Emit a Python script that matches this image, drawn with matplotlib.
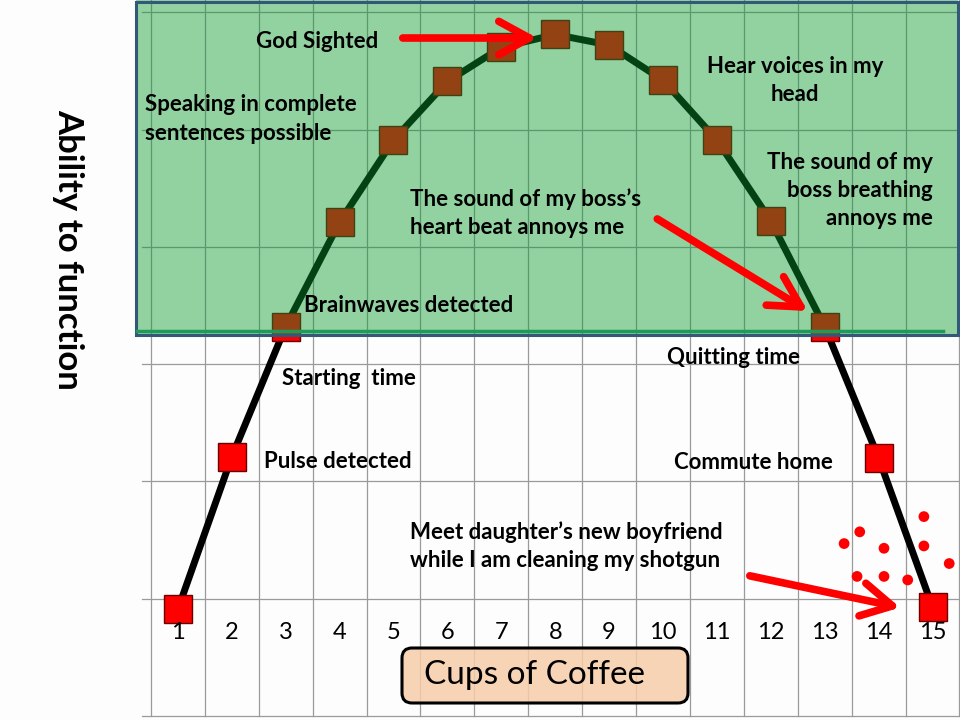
import matplotlib
matplotlib.use("Agg")
import matplotlib.pyplot as plt
from matplotlib.patches import Rectangle, FancyBboxPatch, FancyArrowPatch

plt.rcParams['font.family'] = ['Lato', 'DejaVu Sans']

# ---- data ----
cups = [1, 2, 3, 4, 5, 6, 7, 8, 9, 10, 11, 12, 13, 14, 15]
ability = [0.91, 2.21, 3.32, 4.21, 4.91, 5.41, 5.70, 5.81, 5.72, 5.42, 4.91, 4.22, 3.32, 2.20, 0.93]
tick_labels = [str(c) for c in cups]

# shotgun pellets
dots_x = [13.36, 13.65, 14.10, 13.60, 14.10, 14.54, 14.84, 14.84, 15.31]
dots_y = [1.47, 1.57, 1.43, 1.19, 1.19, 1.16, 1.70, 1.45, 1.30]

notes = [
    ("God Sighted", 2.45, 5.75, 'left'),
    ("Speaking in complete\nsentences possible", 0.39, 5.09, 'left'),
    ("Hear voices in my\nhead", 12.45, 5.42, 'center'),
    ("The sound of my\nboss breathing\nannoys me", 15.01, 4.48, 'right'),
    ("The sound of my boss\u2019s\nheart beat annoys me", 5.30, 4.29, 'left'),
    ("Brainwaves detected", 3.34, 3.50, 'left'),
    ("Starting  time", 2.93, 2.88, 'left'),
    ("Quitting time", 10.07, 3.06, 'left'),
    ("Pulse detected", 2.60, 2.17, 'left'),
    ("Commute home", 10.20, 2.16, 'left'),
    ("Meet daughter\u2019s new boyfriend\nwhile I am cleaning my shotgun", 5.30, 1.45, 'left'),
]

arrows = [
    ((5.12, 5.78), (7.72, 5.78)),
    ((9.85, 4.25), (12.73, 3.44)),
    ((11.56, 1.20), (14.45, 0.92)),
]

fig = plt.figure(figsize=(9.6, 7.2), dpi=100)
fig.patch.set_facecolor('#fdfdfd')
ax = fig.add_axes([0, 0, 1, 1])
ax.set_xlim(-2.30, 15.51)
ax.set_ylim(-0.034, 6.104)
ax.axis('off')

# grid
for gx in [c - 0.5 for c in cups] + [15.5]:
    ax.plot([gx, gx], [0, 6.2], color='#9a9a9a', lw=0.9, zorder=1)
for gy in range(7):
    ax.plot([0.33, 15.6], [gy, gy], color='#9a9a9a', lw=0.9, zorder=1)

# the curve
ax.plot(cups, ability, color='black', lw=5, zorder=2, solid_capstyle='butt')
ax.plot(cups, ability, ls='none', marker='s', ms=20, mfc='#ff0000', mec='#6a0000',
        mew=1, zorder=3)

# green "functioning" zone, semi transparent over the curve
ax.add_patch(Rectangle((0.222, 3.25), 15.25, 2.88, facecolor='#099b2d', alpha=0.44,
                       edgecolor='none', zorder=4))
ax.add_patch(Rectangle((0.222, 3.25), 15.25, 2.84, facecolor='none',
                       edgecolor='#34587a', lw=2.2, zorder=5))
ax.plot([0.24, 15.2], [3.28, 3.28], color='#1f9a5a', lw=2.5, zorder=5)

# notes
for txt, x, y, ha in notes:
    ax.text(x, y, txt, ha=ha, va='center', multialignment=ha, fontsize=16,
            fontweight='bold', color='black', linespacing=1.42, zorder=7)

for (x0, y0), (x1, y1) in arrows:
    ax.add_patch(FancyArrowPatch((x0, y0), (x1, y1),
                                 arrowstyle='->,head_length=1.1,head_width=0.6',
                                 mutation_scale=20, color='#ff0000', lw=5.5, zorder=7))

ax.scatter(dots_x, dots_y, s=60, color='#ff0000', edgecolors='none', zorder=7)

# tick numbers
for c, lab in zip(cups, tick_labels):
    ax.text(c, 0.716, lab, ha='center', va='center', fontsize=17, color='black', zorder=7)

# axis titles
ax.text(-1.04, 3.98, "Ability to function", rotation=270, ha='center', va='center',
        fontsize=25, fontweight='bold', color='black')

box = dict(boxstyle='round,pad=0,rounding_size=0.1', transform=fig.dpi_scale_trans)
fig.patches.append(FancyBboxPatch((4.02, 0.17), 2.86, 0.55, facecolor='#f8cdaa',
                                  alpha=0.85, edgecolor='none', zorder=5, **box))
fig.patches.append(FancyBboxPatch((4.02, 0.17), 2.86, 0.55, facecolor='none',
                                  edgecolor='black', lw=2.2, zorder=6, **box))
fig.text(4.24 / 9.6, 0.45 / 7.2, "Cups of Coffee", ha='left', va='center', fontsize=24,
         color='black', zorder=7)

fig.savefig('out.png', dpi=100, facecolor=fig.get_facecolor())
